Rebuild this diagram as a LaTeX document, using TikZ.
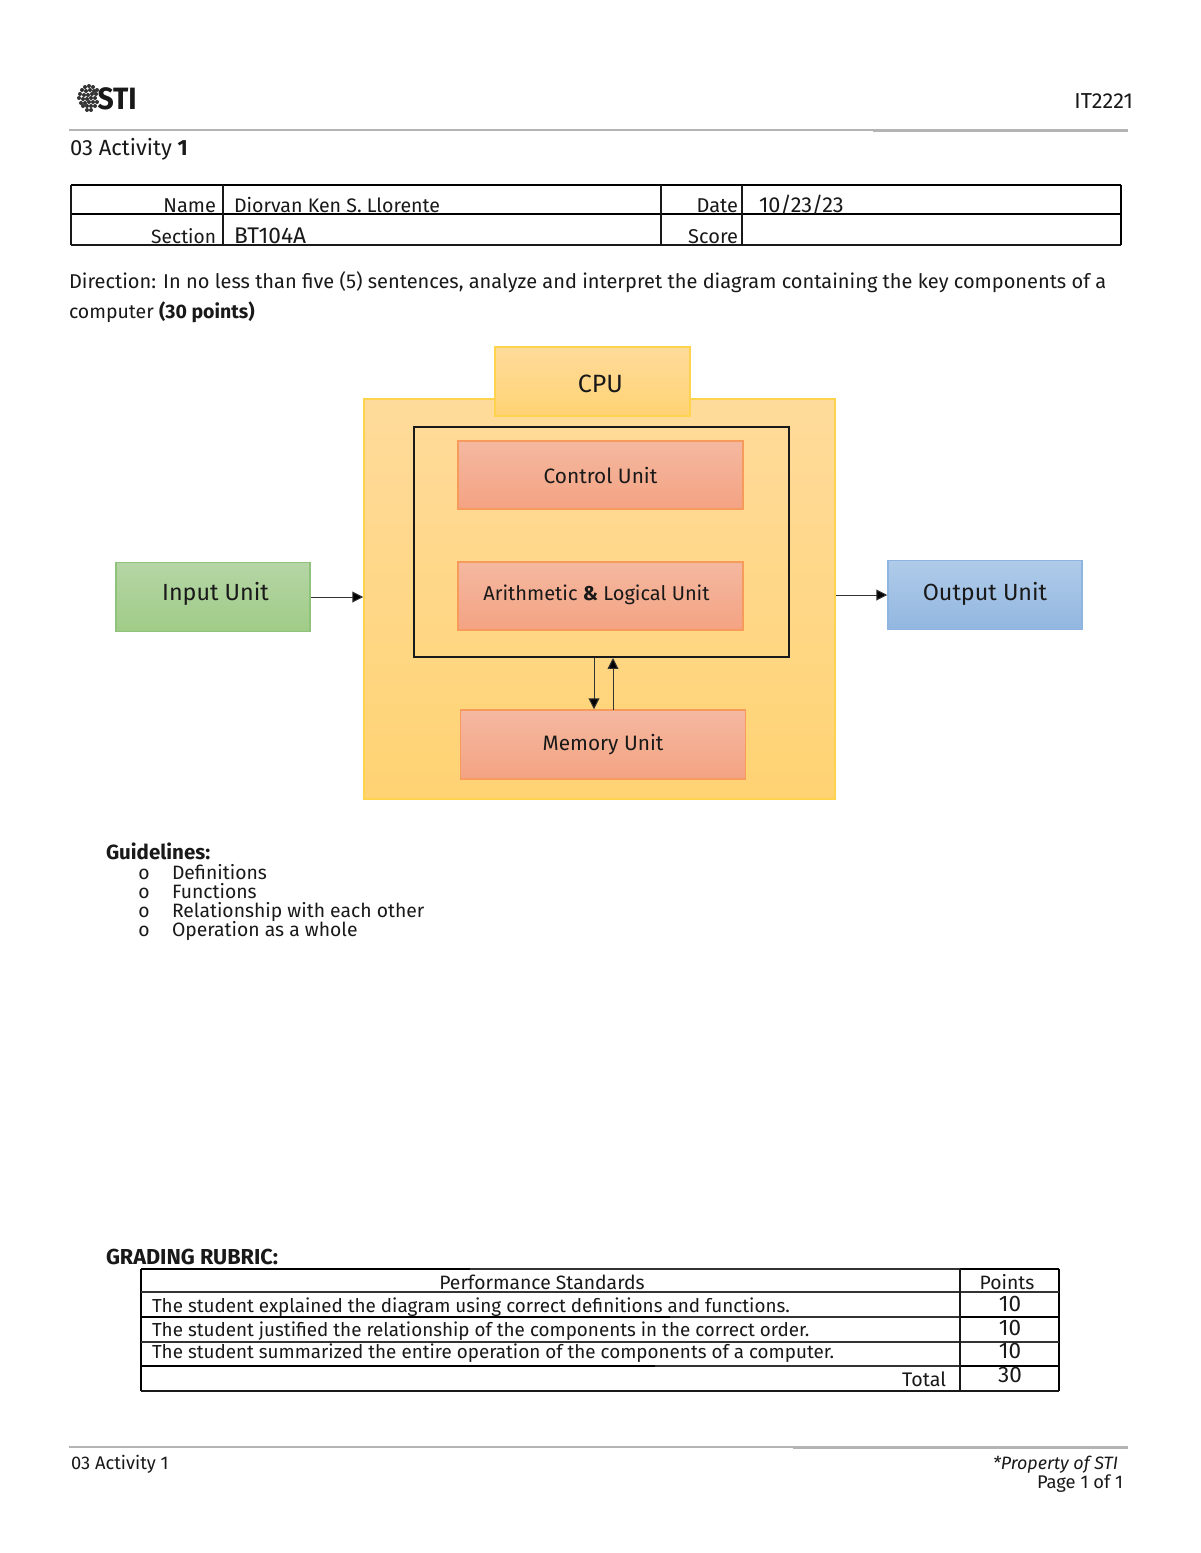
\documentclass[tikz,border=0pt]{standalone}
\usepackage{fontspec}
\setmainfont{Fira Sans}
\usetikzlibrary{arrows.meta,calc}
\definecolor{rulegray}{HTML}{B4B4B4}
\definecolor{ytop}{HTML}{FFDB9B}\definecolor{ybot}{HTML}{FFD373}\definecolor{yline}{HTML}{FFD34D}
\definecolor{rtop}{HTML}{F4B8A0}\definecolor{rbot}{HTML}{F4A383}\definecolor{rline}{HTML}{F79B5C}
\definecolor{gtop}{HTML}{B5D5A5}\definecolor{gbot}{HTML}{A0CC87}\definecolor{gline}{HTML}{8FC27A}
\definecolor{btop}{HTML}{B0CBE9}\definecolor{bbot}{HTML}{92B7E0}\definecolor{bline}{HTML}{8DB5E0}
\tikzset{
  x=0.6pt,y=-0.6pt,
  fs/.style={font=\fontsize{#1}{#1}\selectfont},
  txt/.style={inner sep=0pt,outer sep=0pt,fs=11.6,text=black!90},
  lft/.style={txt,anchor=base west},
  rgt/.style={txt,anchor=base east},
  ctr/.style={txt,anchor=base},
  frame/.style={line width=1.7pt,draw=black},
  grid/.style={line width=1pt,draw=black!90},
  thin grid/.style={line width=0.7pt,draw=black!80},
  yellowbox/.style={draw=yline,line width=0.9pt,top color=ytop,bottom color=ybot,inner sep=0pt,align=center,text=black!90},
  redbox/.style={draw=rline,line width=0.9pt,top color=rtop,bottom color=rbot,inner sep=0pt,align=center,text=black!90},
  greenbox/.style={draw=gline,line width=0.9pt,top color=gtop,bottom color=gbot,inner sep=0pt,text=black!90},
  bluebox/.style={draw=bline,line width=0.9pt,top color=btop,bottom color=bbot,inner sep=0pt,text=black!90},
  flow/.style={line width=0.6pt,draw=black!80,-{Triangle[length=6.5pt,width=6.5pt,fill=black]}},
}
\begin{document}
\begin{tikzpicture}
\useasboundingbox (0,0) rectangle (1200,1553);
\fill[white] (0,0) rectangle (1200,1553);

% logo
\begin{scope}[black!80]
\foreach \a/\b in {85/87,89/86,93/87,82/90,86/91,90/90,94/91,97/90,80/94,84/95,88/95,92/94,96/94,79/98,83/99,87/99,91/98,95/98,81/103,85/103,89/102,93/102,97/102,83/106,87/106,91/106,95/106,87/110,91/110}
  \fill (\a,\b) circle[radius=2];
\end{scope}
\node[lft,font=\fontsize{18.5}{18.5}\selectfont\bfseries,text=black!90] (logo) at (97.5,109) {\scalebox{0.92}[1]{STI}};
\node[rgt,fs=13] (code) at (1133,108) {IT2221};

% header rule
\coordinate (hl) at (69,130); \coordinate (hr) at (1128,130); \coordinate (hm) at (873,131.5);
\draw[rulegray,line width=1.1pt] (hl) -- (hr);
\draw[rulegray,line width=1.1pt] (hm) -- (hr |- hm);
\node[lft,fs=13.2] (title) at (70,155) {03 Activity \textbf{1}};

% identification table
\draw[frame] (71,185) -- (1121,185);
\draw[frame] (71,214) -- (1121,214);
\draw[grid] (71,245) -- (1121,245);
\draw[grid] (71,185) -- (71,245);
\draw[frame] (1121,185) -- (1121,245);
\draw[grid] (223,185) -- (223,245);
\draw[grid] (661,185) -- (661,245);
\draw[grid] (742,185) -- (742,245);
\node[rgt,fs=12] (n1) at (216,212) {Name};
\node[lft,fs=11.75] (n2) at (234,212) {Diorvan Ken S. Llorente};
\node[rgt,fs=12] (n3) at (738,212) {Date};
\node[lft,fs=13] (n4) at (759,212) {10/23/23};
\node[rgt,fs=11.5] (n5) at (216,243) {Section};
\node[lft,fs=13.6] (n6) at (234,243) {BT104A};
\node[rgt,fs=12] (n7) at (738,243) {Score};

% direction
\node[lft,fs=12] (d1) at (69,288) {Direction: In no less than five (5) sentences, analyze and interpret the diagram containing the key components of a};
\node[lft,fs=11.7] (d2) at (69,318) {computer \textbf{(30 points)}};

% diagram
\node[yellowbox,minimum width=282.6pt,minimum height=240pt] (cpubox) at (599.5,599) {};
\node[yellowbox,minimum width=117pt,minimum height=41.4pt,fs=15] (cputab) at (592.5,381.5) {\hspace*{9.6pt}\raisebox{-6.3pt}[0pt][0pt]{CPU}};
\node[draw=black!90,line width=1.2pt,minimum width=225pt,minimum height=138pt,inner sep=0pt] (inner) at (601.5,542) {};
\node[redbox,minimum width=171pt,minimum height=40.8pt,fs=12.5] (cu) at (600.5,475) {Control Unit};
\node[redbox,minimum width=171pt,minimum height=40.8pt,fs=12] (alu) at (600.5,596) {\hspace*{-4.8pt}\raisebox{-2.4pt}[0pt][0pt]{Arithmetic \textbf{\&} Logical Unit}};
\node[redbox,minimum width=171pt,minimum height=41.4pt,fs=12.5] (mem) at (603,744.5) {Memory Unit};
\node[greenbox,minimum width=116.4pt,minimum height=41.4pt,fs=14] (input) at (213,597) {\hspace*{3pt}\raisebox{-1.8pt}[0pt][0pt]{Input Unit}};
\node[bluebox,minimum width=116.4pt,minimum height=41.4pt,fs=14] (output) at (985,595) {\raisebox{-3pt}[0pt][0pt]{Output Unit}};
\draw[flow] (input.east) -- (input.east -| cpubox.west);
\draw[flow] (cpubox.east |- output.west) -- (output.west);
\coordinate (dn) at (594,658);
\coordinate (up) at (613,710);
\draw[flow] (dn) -- (dn |- mem.north);
\draw[flow] (up) -- (up |- inner.south);

% guidelines
\node[lft,font=\fontsize{12.3}{13}\selectfont\bfseries] (g0) at (106,859) {Guidelines:};
\foreach \n/\y/\t in {1/879/Definitions,2/898/Functions,3/917/Relationship with each other,4/936/Operation as a whole}{
  \node[ctr] (b\n) at (144,\y) {o};
  \node[lft] (g\n) at (172,\y) {\t};
}

% rubric
\node[lft,font=\fontsize{13}{13}\selectfont\bfseries] (r0) at (106,1264) {GRADING RUBRIC:};
\draw[frame] (141,1269) -- (470,1269);
\draw[thin grid] (470,1269) -- (960,1269);
\draw[frame] (960,1269) -- (1059,1269);
\draw[frame] (141,1269) -- (141,1391);
\draw[frame] (1059,1269) -- (1059,1391);
\draw[grid] (141,1391) -- (1059,1391);
\draw[thin grid] (141,1292) -- (1059,1292);
\draw[frame] (141,1317) -- (670,1317);
\draw[thin grid] (670,1317) -- (960,1317);
\draw[frame] (960,1317) -- (1059,1317);
\draw[thin grid] (141,1342) -- (1059,1342);
\draw[frame] (141,1366) -- (655,1366);
\draw[thin grid] (655,1366) -- (960,1366);
\draw[frame] (960,1366) -- (1059,1366);
\draw[grid] (960,1269) -- (960,1391);
\node[ctr] (p0) at (542,1289) {Performance Standards};
\node[ctr] (q0) at (1007,1289) {Points};
\node[lft,fs=11.3] (p1) at (152,1312) {The student explained the diagram using correct definitions and functions.};
\node[ctr,fs=13.5] (q1) at (1010,1311) {10};
\node[lft,fs=11.3] (p2) at (152,1336) {The student justified the relationship of the components in the correct order.};
\node[ctr,fs=13.5] (q2) at (1010,1335) {10};
\node[lft,fs=11.3] (p3) at (152,1358) {The student summarized the entire operation of the components of a computer.};
\node[ctr,fs=13.5] (q3) at (1010,1358) {10};
\node[rgt,fs=11.8] (p4) at (946,1386) {Total};
\node[ctr,fs=13.5] (q4) at (1010,1382) {30};

% footer
\coordinate (fl) at (69,1447); \coordinate (fr) at (1128,1447); \coordinate (fm) at (793,1448.5);
\draw[rulegray,line width=1.3pt] (fl) -- (fr);
\draw[rulegray,line width=1.1pt] (fm) -- (fr |- fm);
\node[lft,fs=11] (f1) at (71,1469) {03 Activity 1};
\node[rgt,fs=10.75] (f2) at (1118,1469) {\itshape *Property of STI};
\node[rgt,fs=11] (f3) at (1123,1488) {Page 1 of 1};
\end{tikzpicture}
\end{document}
